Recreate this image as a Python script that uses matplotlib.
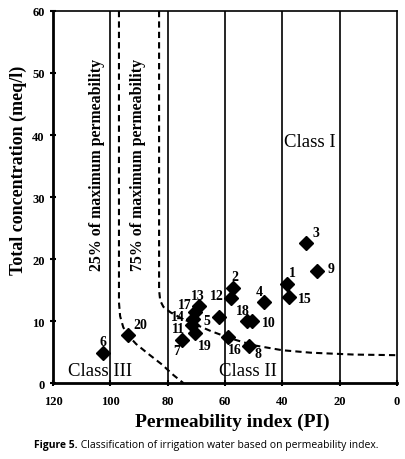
import matplotlib.pyplot as plt

plt.rcParams['font.family'] = ['Liberation Serif', 'DejaVu Serif']

# Sample points (PI, total concentration)
sample_ids = ['1', '2', '3', '4', '5', '6', '7', '8', '9', '10',
              '11', '12', '13', '14', '15', '16', '17', '18', '19', '20']
pi_vals = [38.5, 57.3, 31.8, 46.4, 62.0, 102.5, 75.1, 51.6, 28.0, 50.7,
           71.6, 57.9, 69.0, 71.3, 37.6, 59.1, 70.5, 52.4, 70.5, 93.7]
conc_vals = [16.0, 15.3, 22.6, 13.0, 10.7, 4.8, 7.0, 6.0, 18.1, 9.95,
             9.35, 13.7, 12.5, 10.4, 13.9, 7.4, 11.4, 10.0, 8.1, 7.8]
# label offsets in points (label centre relative to marker)
label_off = {'1': (4.5, 8), '2': (1.7, 8.4), '3': (7.5, 7.5), '4': (-3.4, 8), '5': (-8.6, -2.4),
             '6': (-0.4, 8.6), '7': (-3.6, -8), '8': (6.3, -5.5), '9': (10.5, 2), '10': (12.5, -0.7),
             '11': (-9.5, -2.2), '12': (-10, 1.7), '13': (-1.2, 7), '14': (-10.6, 1.4),
             '15': (11.5, -1.2), '16': (5, -8.6), '17': (-7.4, 6), '18': (-3, 7.8),
             '19': (6.8, -8.8), '20': (8.6, 7.2)}

# Class boundary curves
c25_x = [97, 97, 96.6, 95.5, 94, 91, 87, 82, 78, 74.5]
c25_y = [60, 13, 10.8, 9.0, 7.8, 6.3, 4.8, 3.0, 1.3, 0]
c75_x = [83, 83, 82.6, 81.5, 79, 75, 70, 65, 58, 50, 40, 30, 15, 0]
c75_y = [60, 15, 13.3, 12.3, 11.4, 10.4, 9.4, 8.4, 7.2, 6.1, 5.3, 4.9, 4.6, 4.5]

grid_x = [100, 80, 60, 40, 20]

fig = plt.figure(figsize=(4.05, 4.6), dpi=100)
ax = fig.add_axes([0.131, 0.165, 0.849, 0.809])

for gx in grid_x:
    ax.axvline(gx, color='black', lw=1.2)

ax.plot(c25_x, c25_y, color='black', ls=(0, (3, 2)), lw=1.5)
ax.plot(c75_x, c75_y, color='black', ls=(0, (3, 2)), lw=1.5)

ax.plot(pi_vals, conc_vals, 'D', color='black', ms=7, ls='none')
for sid, px, py in zip(sample_ids, pi_vals, conc_vals):
    dx, dy = label_off[sid]
    ax.annotate(sid, (px, py), xytext=(dx, dy), textcoords='offset points',
                fontsize=10, fontweight='bold', ha='center', va='center')

ax.text(30.5, 39, 'Class I', fontsize=13.5, ha='center', va='center')
ax.text(52, 2.1, 'Class II', fontsize=13.5, ha='center', va='center')
ax.text(103.6, 2.1, 'Class III', fontsize=13.5, ha='center', va='center')
ax.text(104.6, 35.3, '25% of maximum permeability', rotation=90, fontsize=11.4,
        fontweight='bold', ha='center', va='center')
ax.text(90.2, 35.3, '75% of maximum permeability', rotation=90, fontsize=11.4,
        fontweight='bold', ha='center', va='center')

ax.set_xlim(120, 0)
ax.set_ylim(0, 60)
ax.set_xticks([120, 100, 80, 60, 40, 20, 0])
ax.set_yticks([0, 10, 20, 30, 40, 50, 60])
ax.tick_params(direction='inout', length=5, width=1.5, labelsize=9)
ax.tick_params(axis='x', pad=6)
for lab in ax.get_xticklabels() + ax.get_yticklabels():
    lab.set_fontweight('bold')
for sp in ax.spines.values():
    sp.set_linewidth(1.2)
ax.spines['left'].set_linewidth(2)
ax.spines['bottom'].set_linewidth(2)

ax.set_xlabel('Permeability index (PI)', fontsize=14, fontweight='bold', labelpad=4, x=0.52)
ax.set_ylabel('Total concentration (meq/l)', fontsize=13, fontweight='bold', labelpad=4, y=0.575)

cap = fig.text(0.085, 0.027, 'Figure 5.', fontsize=7.5, fontweight='bold',
               family=['Open Sans', 'DejaVu Sans'])
fig.canvas.draw()
ax.annotate(' Classification of irrigation water based on permeability index.',
            xy=(1, 0), xycoords=cap, fontsize=7.5, family=['Open Sans', 'DejaVu Sans'],
            va='bottom', ha='left', annotation_clip=False)

fig.savefig('out.png', dpi=100)
